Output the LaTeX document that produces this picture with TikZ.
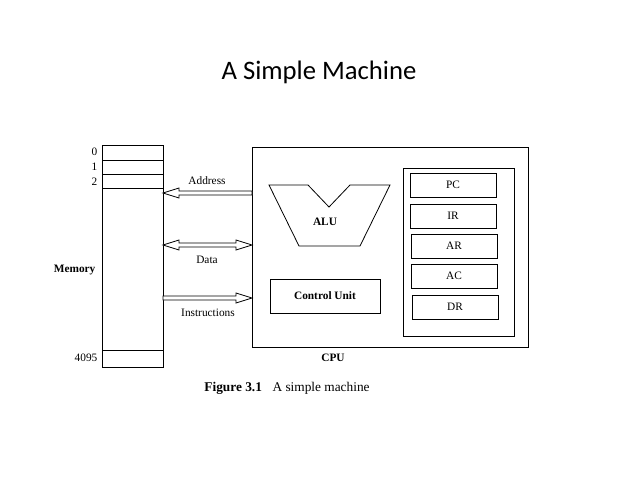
\documentclass[tikz,border=0pt]{standalone}
\usepackage{fontspec}
\setmainfont{Liberation Serif}
\newfontfamily\titlefont{Carlito}
\begin{document}
\begin{tikzpicture}[x=0.75pt,y=-0.75pt,
  box/.style={draw,line width=0.6pt},
  reg/.style={draw,line width=0.6pt,minimum width=86*0.75pt,minimum height=24*0.75pt,inner sep=0pt,font=\fontsize{8.5}{9}\selectfont},
  lbl/.style={font=\fontsize{8.5}{9}\selectfont,inner sep=1pt},
  blbl/.style={font=\fontsize{8.5}{9}\selectfont\bfseries,inner sep=1pt},
  bus/.style={draw,line width=0.6pt,fill=white,line join=miter}]
\useasboundingbox (0,0) rectangle (638,478);
\node[font=\titlefont\fontsize{20}{24}\selectfont] (title) at (319,72) {A Simple Machine};
% memory
\draw[box] (102,145) rectangle (163,367);
\foreach \y in {160,174,188,350} \draw[line width=0.6pt] (102,\y) -- (163,\y);
\node[lbl,anchor=east] (m0) at (99,152) {0};
\node[lbl,anchor=east] (m1) at (99,167) {1};
\node[lbl,anchor=east] (m2) at (99,182) {2};
\node[lbl,anchor=east] (m4095) at (99,358) {4095};
\node[blbl,anchor=east] (mem) at (97,270) {Memory};
% cpu
\draw[box] (252,147) rectangle (528,347);
\node[blbl] (cpu) at (333,358) {CPU};
\draw[box] (403,168) rectangle (514,336);
\node[reg] (pc) at (453,185) {PC};
\node[reg] (ir) at (453,216) {IR};
\node[reg] (ar) at (454,246) {AR};
\node[reg] (ac) at (454,276) {AC};
\node[reg] (dr) at (455,307) {DR};
\draw[box] (269,185) -- (308,185) -- (329,207) -- (350,185) -- (390,185) -- (360,246) -- (299,246) -- cycle;
\node[blbl] (alu) at (325,222) {ALU};
\node[box,blbl,minimum width=110*0.75pt,minimum height=34*0.75pt] (cu) at (325,296) {Control Unit};
% buses
\coordinate (a1) at (252,193); \coordinate (a2) at (163,193);
\coordinate (d1) at (163,245); \coordinate (d2) at (252,245);
\coordinate (i1) at (163,298); \coordinate (i2) at (252,298);
\draw[bus] (a2) -- ++(16,-5) -- ++(0,3) -- ++(73,0) -- ++(0,4) -- ++(-73,0) -- ++(0,3) -- cycle;
\draw[bus] (d1) -- ++(16,-5) -- ++(0,3) -- ++(57,0) -- ++(0,-3) -- (d2) -- ++(-16,5) -- ++(0,-3) -- ++(-57,0) -- ++(0,3) -- cycle;
\draw[bus] (i2) -- ++(-16,-5) -- ++(0,3) -- ++(-73,0) -- ++(0,4) -- ++(73,0) -- ++(0,3) -- cycle;
\node[lbl] (addr) at (207,181) {Address};
\node[lbl] (data) at (207,260) {Data};
\node[lbl] (instr) at (208,313) {Instructions};
\node[font=\fontsize{10}{11}\selectfont] (cap) at (287,388) {\textbf{Figure 3.1}\hspace{0.8em}A simple machine};
\end{tikzpicture}
\end{document}
